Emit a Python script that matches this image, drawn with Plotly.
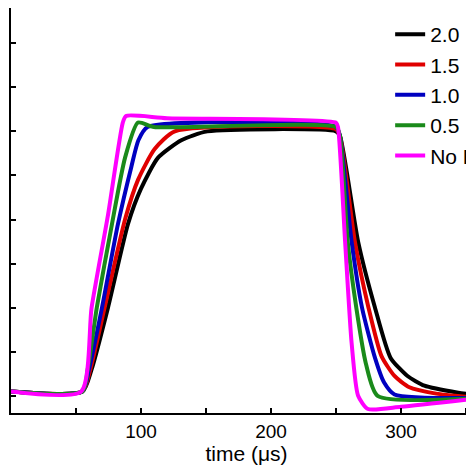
import plotly.graph_objects as go

names = ["2.0", "1.5", "1.0", "0.5", "No E-field"]
colors = ["#000000", "#e00000", "#0000c0", "#1a8a1a", "#ff00ff"]

t_black = [0, 55, 62, 74.6, 90, 100, 113, 131, 151, 250, 253, 267, 280, 292, 305, 318, 344, 362]
y_black = [0.1, 0.1, 0.6, 2.0, 3.9, 4.7, 5.4, 5.8, 6.0, 6.0, 5.9, 3.5, 2.0, 0.86, 0.45, 0.23, 0.07, 0.0]

t_red = [0, 55, 61, 72, 87.7, 97.7, 110.5, 126, 250, 253, 264.5, 275, 285, 295, 306, 327, 362]
y_red = [0.1, 0.1, 0.6, 2.0, 4.0, 4.9, 5.6, 6.0, 6.05, 5.9, 3.5, 2.0, 0.9, 0.45, 0.2, 0.05, -0.05]

t_blue = [0, 55, 60, 70, 82.3, 92.6, 98, 105, 250, 253, 262, 270, 280, 287, 295, 362]
y_blue = [0.1, 0.1, 0.6, 2.0, 3.9, 5.2, 5.8, 6.1, 6.1, 5.9, 3.5, 2.0, 0.86, 0.3, 0.03, -0.05]

t_green = [0, 55, 59, 66, 77.7, 87.7, 97.7, 110, 250, 253, 259, 265.6, 273, 282, 362]
y_green = [0.1, 0.1, 0.6, 2.0, 3.9, 5.4, 6.2, 6.1, 6.1, 5.9, 3.5, 2.0, 0.73, 0.0, -0.05]

t_mag = [0, 54, 62, 74.6, 86, 88.5, 120, 250, 251.5, 257, 262, 267, 274.6, 300, 362]
y_mag = [0.1, 0.1, 2.0, 4.1, 6.2, 6.35, 6.3, 6.2, 6.1, 3.5, 1.2, 0.0, -0.3, -0.25, -0.05]

series_t = [t_black, t_red, t_blue, t_green, t_mag]
series_y = [y_black, y_red, y_blue, y_green, y_mag]

x_tickvals = [0, 50, 100, 150, 200, 250, 300, 350]
x_ticktext = ["0", "", "100", "", "200", "", "300", ""]

fig = go.Figure()
for n, c, t, y in zip(names, colors, series_t, series_y):
    fig.add_trace(go.Scatter(x=t, y=y, mode="lines", name=n,
                             line=dict(color=c, width=4, shape="spline", smoothing=0.6)))

fig.update_layout(
    width=474, height=474,
    margin=dict(l=3, r=0, t=0, b=69, autoexpand=False),
    plot_bgcolor="white", paper_bgcolor="white",
    font=dict(family="Arial, Liberation Sans", color="black"),
    showlegend=True,
    legend=dict(x=0.805, y=0.985, xanchor="left", yanchor="top",
                font=dict(size=21), bgcolor="rgba(0,0,0,0)",
                tracegroupgap=0),
    xaxis=dict(range=[0, 362.3], showline=True, linecolor="black", linewidth=2,
               ticks="inside", ticklen=5, tickwidth=1.5, tickcolor="black",
               tickvals=x_tickvals, ticktext=x_ticktext, automargin=False,
               tickfont=dict(size=19), showgrid=False, zeroline=False,
               title=dict(text="time (μs)", font=dict(size=21), standoff=4)),
    yaxis=dict(range=[-0.39, 8.8], showline=True, linecolor="black", linewidth=2,
               ticks="inside", ticklen=5, tickwidth=1.5, tickcolor="black",
               automargin=False,
               dtick=1, showticklabels=False, showgrid=False, zeroline=False),
)
fig.write_html("out.html")
